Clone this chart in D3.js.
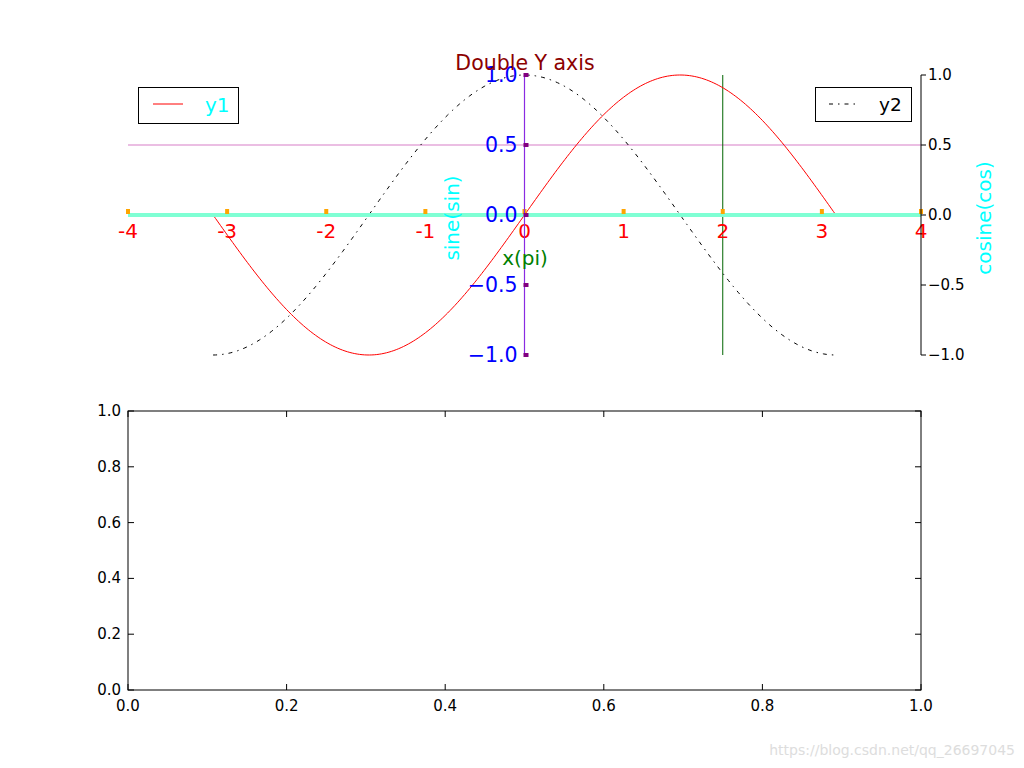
<!DOCTYPE html><html><head><meta charset="utf-8"><script src="https://cdn.jsdelivr.net/npm/d3@7"></script>
<style>body{margin:0;background:#fff}text{font-family:"DejaVu Sans"}</style></head><body><svg id="c" width="1024" height="768"></svg><script>
const xTicks=[-4,-3,-2,-1,0,1,2,3,4];
const xTickLabels=["-4","-3","-2","-1","0","1","2","3","4"];
const yTicks=[-1,-0.5,0,0.5,1];
const rTicks=[-1,-0.5,0,0.5,1];
const bTicks=[0,0.2,0.4,0.6,0.8,1];
const N=256;
const xs=d3.range(N).map(i=>-Math.PI+2*Math.PI*i/(N-1));
const sinData=xs.map(x=>[x,Math.sin(x)]);
const cosData=xs.map(x=>[x,Math.cos(x)]);
const hLine=0.5, vLine=2;
const svg=d3.select("#c");
const x=d3.scaleLinear().domain([-4,4]).range([128,921]);
const y=d3.scaleLinear().domain([-1,1]).range([355,75]);
const fmtM=d=>d3.format(".1f")(d).replace("-","\u2212");
svg.append("line").attr("x1",x(-4)).attr("x2",x(4)).attr("y1",y(hLine)).attr("y2",y(hLine)).attr("stroke","#d77fc8").attr("stroke-width",1.2);
svg.append("line").attr("x1",x(vLine)).attr("x2",x(vLine)).attr("y1",y(-1)).attr("y2",y(1)).attr("stroke","#006400").attr("stroke-width",1);
const ln=d3.line().x(d=>x(d[0])).y(d=>y(d[1]));
svg.append("path").attr("d",ln(sinData)).attr("fill","none").attr("stroke","red").attr("stroke-width",1);
svg.append("path").attr("d",ln(cosData)).attr("fill","none").attr("stroke","black").attr("stroke-width",1).attr("stroke-dasharray","4,5,1.5,5");
svg.append("line").attr("x1",x(-4)).attr("x2",x(4)).attr("y1",y(0)).attr("y2",y(0)).attr("stroke","#7fffd4").attr("stroke-width",4);
xTicks.forEach((t,i)=>{
 svg.append("rect").attr("x",x(t)-2).attr("y",y(0)-6).attr("width",4).attr("height",5).attr("fill","orange");
 svg.append("text").attr("x",x(t)).attr("y",y(0)+23).attr("text-anchor","middle").attr("font-size",20).attr("fill","red").text(xTickLabels[i]);
});
svg.append("line").attr("x1",x(0)).attr("x2",x(0)).attr("y1",y(-1)).attr("y2",y(1)).attr("stroke","#8a2be2").attr("stroke-width",1.2);
yTicks.forEach(t=>{
 svg.append("rect").attr("x",x(0)-1).attr("y",y(t)-2).attr("width",5).attr("height",4).attr("fill","purple");
 svg.append("text").attr("x",x(0)-7).attr("y",y(t)+7).attr("text-anchor","end").attr("font-size",20.5).attr("fill","blue").text(fmtM(t));
});
svg.append("line").attr("x1",921).attr("x2",921).attr("y1",y(-1)).attr("y2",y(1)).attr("stroke","black");
rTicks.forEach(t=>{
 svg.append("line").attr("x1",921).attr("x2",926).attr("y1",y(t)).attr("y2",y(t)).attr("stroke","black");
 svg.append("text").attr("x",928).attr("y",y(t)+5).attr("font-size",15).text(fmtM(t));
});
svg.append("text").attr("transform",`translate(459,${y(0)+3}) rotate(-90)`).attr("text-anchor","middle").attr("font-size",20).attr("fill","cyan").text("sine(sin)");
svg.append("text").attr("transform",`translate(991,${y(0)+3}) rotate(-90)`).attr("text-anchor","middle").attr("font-size",20).attr("fill","cyan").text("cosine(cos)");
svg.append("text").attr("x",525).attr("y",265).attr("text-anchor","middle").attr("font-size",20).attr("fill","green").text("x(pi)");
svg.append("text").attr("x",525).attr("y",70).attr("text-anchor","middle").attr("font-size",20.5).attr("fill","darkred").text("Double Y axis");
svg.append("rect").attr("x",138.5).attr("y",87.5).attr("width",100).attr("height",36).attr("fill","#fff").attr("stroke","black");
svg.append("line").attr("x1",153).attr("x2",183).attr("y1",104).attr("y2",104).attr("stroke","red");
svg.append("text").attr("x",205).attr("y",112).attr("font-size",20).attr("fill","cyan").text("y1");
svg.append("rect").attr("x",815.5).attr("y",87.5).attr("width",96).attr("height",34).attr("fill","#fff").attr("stroke","black");
svg.append("line").attr("x1",829).attr("x2",859).attr("y1",104).attr("y2",104).attr("stroke","black").attr("stroke-dasharray","4,5,1.5,5");
svg.append("text").attr("x",879).attr("y",111).attr("font-size",18.5).text("y2");
const bx=d3.scaleLinear().domain([0,1]).range([128,921]);
const by=d3.scaleLinear().domain([0,1]).range([690,411]);
svg.append("rect").attr("x",128).attr("y",411).attr("width",793).attr("height",279).attr("fill","none").attr("stroke","black");
bTicks.forEach(t=>{
 svg.append("line").attr("x1",bx(t)).attr("x2",bx(t)).attr("y1",690).attr("y2",684).attr("stroke","black");
 svg.append("line").attr("x1",bx(t)).attr("x2",bx(t)).attr("y1",411).attr("y2",417).attr("stroke","black");
 svg.append("text").attr("x",bx(t)).attr("y",711).attr("text-anchor","middle").attr("font-size",15).text(t.toFixed(1));
 svg.append("line").attr("x1",128).attr("x2",134).attr("y1",by(t)).attr("y2",by(t)).attr("stroke","black");
 svg.append("line").attr("x1",921).attr("x2",915).attr("y1",by(t)).attr("y2",by(t)).attr("stroke","black");
 svg.append("text").attr("x",121).attr("y",by(t)+5).attr("text-anchor","end").attr("font-size",15).text(t.toFixed(1));
});
svg.append("text").attr("x",1015).attr("y",755).attr("text-anchor","end").attr("font-size",14).attr("fill","#ddd").text("https://blog.csdn.net/qq_26697045");
</script></body></html>
